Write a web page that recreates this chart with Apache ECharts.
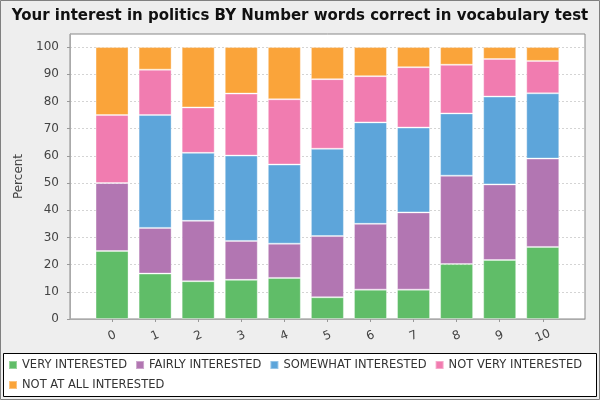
<!DOCTYPE html>
<html>
<head>
<meta charset="UTF-8">
<title>Interest in politics by vocabulary</title>
<script type="text/javascript" src="https://cdn.jsdelivr.net/npm/echarts@6/dist/echarts.min.js"></script>
<style>
  html, body { margin: 0; padding: 0; background: #eeeeee; }
</style>
</head>
<body>
<div id="main" style="width: 600px;height:400px;"></div>
<script type="text/javascript">

  // words correct (x axis)
  var categories = ['0', '1', '2', '3', '4', '5', '6', '7', '8', '9', '10'];

  // percent per answer
  var veryInterested     = [25.0, 16.7, 13.9, 14.4, 15.1,  8.0, 10.8, 10.8, 20.2, 21.7, 26.5];
  var fairlyInterested   = [25.0, 16.8, 22.2, 14.3, 12.6, 22.5, 24.2, 28.4, 32.5, 27.8, 32.5];
  var somewhatInterested = [ 0.0, 41.5, 25.0, 31.4, 29.1, 32.1, 37.3, 31.2, 22.9, 32.3, 24.0];
  var notVeryInterested  = [25.0, 16.7, 16.7, 22.8, 24.0, 25.6, 17.0, 22.2, 17.9, 13.8, 11.9];
  var notAtAllInterested = [25.0,  8.3, 22.2, 17.1, 19.2, 11.8, 10.7,  7.4,  6.5,  4.4,  5.1];

  var seriesNames = ['VERY INTERESTED', 'FAIRLY INTERESTED', 'SOMEWHAT INTERESTED',
                     'NOT VERY INTERESTED', 'NOT AT ALL INTERESTED'];
  var seriesData = [veryInterested, fairlyInterested, somewhatInterested,
                    notVeryInterested, notAtAllInterested];
  var colors = ['#60bd68', '#b276b2', '#5da5da', '#f17cb0', '#faa43a'];

  var yTicks = [0, 10, 20, 30, 40, 50, 60, 70, 80, 90, 100];
  var yMax = 104.8;

  var font = 'DejaVu Sans';
  var myChart = echarts.init(document.getElementById('main'));

  var series = seriesNames.map(function (name, i) {
    return {
      name: name,
      type: 'bar',
      stack: 'all',
      xAxisIndex: 1,
      yAxisIndex: 1,
      barWidth: 33,
      itemStyle: {
        color: colors[i],
        borderColor: 'rgba(255,255,255,0.35)',
        borderWidth: 1
      },
      emphasis: { disabled: true },
      data: seriesData[i]
    };
  });

  var option = {
    backgroundColor: '#eeeeee',
    animation: false,
    color: colors,
    title: {
      text: 'Your interest in politics BY Number words correct in vocabulary test',
      left: 'center',
      top: 4,
      textStyle: { fontFamily: font, fontSize: 15, fontWeight: 'bold', color: '#111' }
    },
    legend: {
      data: seriesNames,
      left: 3,
      top: 354,
      width: 590,
      padding: 5,
      itemWidth: 8,
      itemHeight: 8,
      itemGap: 8,
      icon: 'rect',
      textStyle: { fontFamily: font, fontSize: 11.5, color: '#333' }
    },
    graphic: [
      {
        type: 'rect',
        shape: { x: 3.5, y: 353.5, width: 593, height: 43 },
        style: { fill: '#fff', stroke: '#000', lineWidth: 1 },
        z: -1
      },
      {
        type: 'rect',
        shape: { x: 0.5, y: 0.5, width: 599, height: 399 },
        style: { fill: 'none', stroke: '#808080', lineWidth: 1 },
        z: -1
      }
    ],
    grid: [
      // full plot area
      { left: 70, right: 15, top: 34, bottom: 81, show: true,
        backgroundColor: '#fff', borderColor: '#888', borderWidth: 1 },
      // bars (category margins inside the plot)
      { left: 90.5, right: 35.7, top: 34, bottom: 81 }
    ],
    xAxis: [
      {
        gridIndex: 0, type: 'value', min: 0, max: 1, offset: 3,
        axisLine: { show: true, lineStyle: { color: '#aaa' } },
        axisTick: { show: false }, axisLabel: { show: false }, splitLine: { show: false }
      },
      {
        gridIndex: 1, type: 'category', data: categories, offset: 3,
        axisLine: { show: false },
        axisTick: { show: true, alignWithLabel: true, length: 3, lineStyle: { color: '#999' } },
        axisLabel: {
          rotate: 22.5, align: 'center', verticalAlign: 'middle', margin: 14,
          fontFamily: font, fontSize: 12, color: '#444'
        }
      }
    ],
    yAxis: [
      {
        gridIndex: 0, type: 'value', min: 0, max: yMax, interval: 10, offset: 3,
        name: 'Percent', nameLocation: 'middle', nameGap: 33,
        nameTextStyle: { fontFamily: font, fontSize: 12, color: '#444' },
        axisLine: { show: true, lineStyle: { color: '#aaa' } },
        axisTick: { show: true, length: 3, customValues: yTicks, lineStyle: { color: '#999' } },
        axisLabel: { customValues: yTicks, margin: 8, fontFamily: font, fontSize: 12, color: '#444' },
        splitLine: { show: true, lineStyle: { color: '#d4d4d4', type: [2, 2] } }
      },
      {
        gridIndex: 1, type: 'value', min: 0, max: yMax, show: false,
        splitLine: { show: false }
      }
    ],
    series: series
  };

  myChart.setOption(option);
</script>
</body>
</html>
